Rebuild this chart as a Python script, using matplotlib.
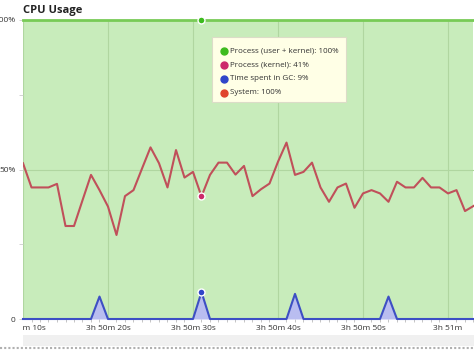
import numpy as np
import matplotlib
matplotlib.use("Agg")
import matplotlib.pyplot as plt
from matplotlib.patches import Rectangle
from matplotlib.lines import Line2D
from matplotlib.transforms import Bbox, TransformedBbox

plt.rcParams['font.family'] = ['Open Sans', 'DejaVu Sans']

# one sample per second, starting at 3h 50m 10s
kernel = [52.1, 44, 44, 44, 45.2, 31.1, 31.1, 39.7, 48.2, 43.1,
          37.6, 28.1, 41.1, 43.1, 50.3, 57.4, 52.1, 44, 56.5, 47.3,
          49.2, 41, 48.2, 52.3, 52.3, 48.3, 51.2, 41.1, 43.4, 45.3,
          52.6, 59, 48.2, 49.2, 52.3, 44, 39.2, 44, 45.3, 37.2,
          42, 43.1, 42, 39.2, 45.9, 44, 44, 47.2, 44, 44,
          42, 43.1, 36.1, 37.8]
gc = [0, 0, 0, 0, 0, 0, 0, 0, 0, 7.5,
      0, 0, 0, 0, 0, 0, 0, 0, 0, 0,
      0, 9, 0, 0, 0, 0, 0, 0, 0, 0,
      0, 0, 8.4, 0, 0, 0, 0, 0, 0, 0,
      0, 0, 0, 7.5, 0, 0, 0, 0, 0, 0,
      0, 0, 0, 0]
total = [100] * len(kernel)
tick_pos = [0, 10, 20, 30, 40, 50]
tick_labels = ["3h 50m 10s", "3h 50m 20s", "3h 50m 30s", "3h 50m 40s", "3h 50m 50s", "3h 51m"]
hover = 21
legend_items = [("Process (user + kernel): 100%", "#3dbb1e"),
                ("Process (kernel): 41%", "#cc2a6a"),
                ("Time spent in GC: 9%", "#2f45c9"),
                ("System: 100%", "#e0452d")]

W, H = 474, 358
fig = plt.figure(figsize=(W / 100, H / 100), dpi=100)
ax = fig.add_axes([23 / W, (H - 319) / H, 451 / W, 299 / H])

x = np.arange(len(kernel))
ax.fill_between(x, 0, total, color="#c8ecbb", lw=0, zorder=1)
ax.plot(x, total, color="#78cb56", lw=2, clip_on=False, zorder=4)
ax.plot(x, kernel, color="#c0505a", lw=1.5, zorder=3)
ax.fill_between(x, 0, gc, color="#b9bdf0", lw=0, zorder=2.7)
ax.plot(x, gc, color="#3d4fc4", lw=1.5, clip_on=False, zorder=4)

# hover markers
ax.plot(hover, total[hover], "o", ms=5, color="#3dbb1e", mec="white", mew=1, clip_on=False, zorder=5)
ax.plot(hover, kernel[hover], "o", ms=5, color="#cc2a6a", mec="white", mew=1, zorder=5)
ax.plot(hover, gc[hover], "o", ms=5, color="#2f45c9", mec="white", mew=1, zorder=5)

ax.set_xlim(0, 451 / 8.5)
ax.set_ylim(0, 100)
ax.set_xticks(tick_pos)
ax.set_xticklabels(tick_labels)
ax.set_xticks(np.arange(0, 54), minor=True)
ax.set_yticks([0, 50, 100])
ax.set_yticklabels(["0", "50%", "100%"])
ax.set_yticks([25, 75], minor=True)
ax.set_axisbelow(False)
ax.grid(True, which="major", color="#b0d6a0", lw=0.8)
for s in ax.spines.values():
    s.set_visible(False)
ax.tick_params(axis="x", which="major", length=0, pad=4, labelsize=6, labelcolor="#333333")
ax.tick_params(axis="x", which="minor", length=2, color="#bbbbbb", width=0.6)
ax.tick_params(axis="y", which="both", length=3, color="#cccccc", width=0.6, pad=2.5,
               labelsize=6, labelcolor="#333333")

clip = TransformedBbox(Bbox([[23 / W, 0], [1, 1]]), fig.transFigure)
for lab in ax.get_xticklabels():
    lab.set_clip_on(True)
    lab.set_clip_box(clip)

fig.text(23 / W, 1 - 11 / H, "CPU Usage", fontsize=8, fontweight="bold", va="center", color="#222222")

# tooltip
fig.patches.append(Rectangle((212 / W, 1 - 102 / H), 134 / W, 65 / H, transform=fig.transFigure,
                             facecolor="#ffffe6", edgecolor="#dcdcc8", lw=0.8, zorder=10))
for i, (txt, c) in enumerate(legend_items):
    yy = 1 - (51 + 14 * i) / H
    fig.lines.append(Line2D([224 / W], [yy], marker="o", ms=5, color=c, transform=fig.transFigure, zorder=11))
    fig.text(230 / W, yy, txt, fontsize=5.8, va="center", color="#333333", zorder=11)

# scroll band under the chart
fig.patches.append(Rectangle((23 / W, 1 - 346 / H), 451 / W, 11 / H, transform=fig.transFigure,
                             facecolor="#f0f0f0", edgecolor="none"))
fig.lines.append(Line2D([0, 1], [1 - 348 / H, 1 - 348 / H], color="#b0b0b0", lw=1.5,
                        ls=(0, (1, 1)), transform=fig.transFigure))

fig.savefig("out.png", dpi=100)
